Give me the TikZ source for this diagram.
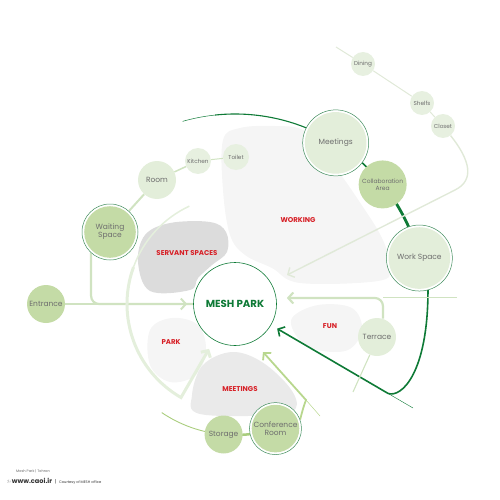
\documentclass[tikz,border=0pt]{standalone}
\usepackage{fontspec}
\setmainfont{Poppins}
\usetikzlibrary{arrows.meta,calc}
\definecolor{darkgreen}{HTML}{0E7A36}
\definecolor{ringgreen}{HTML}{3F8C5C}
\definecolor{lightfill}{HTML}{E3EEDA}
\definecolor{midfill}{HTML}{C4DBA6}
\definecolor{palefill}{HTML}{E7F0E0}
\definecolor{paleline}{HTML}{D0E3C1}
\definecolor{bandline}{HTML}{E4EFDC}
\definecolor{dinline}{HTML}{E0E9D8}
\definecolor{limeline}{HTML}{A9CD7D}
\definecolor{limearrow}{HTML}{B8D78E}
\definecolor{zonered}{HTML}{D71F26}
\definecolor{zonegray}{HTML}{F5F5F5}
\definecolor{servgray}{HTML}{DCDCDC}
\definecolor{meetgray}{HTML}{EAEAEA}
\definecolor{labelgray}{HTML}{6E6E6E}
\pgfdeclarelayer{blobs}
\pgfdeclarelayer{links}
\pgfsetlayers{blobs,links,main}

\begin{document}
\begin{tikzpicture}[x=1pt, y=-1pt,
    every node/.style={circle, inner sep=0pt, align=center, text=labelgray, font=\fontsize{7.5}{8.2}\selectfont},
    light/.style={fill=lightfill},
    mid/.style={fill=midfill},
    small/.style={fill=palefill, minimum size=#1, font=\fontsize{5.7}{6.4}\selectfont},
    ringed/.style 2 args={minimum size=#1, draw=ringgreen, line width=0.5pt, fill=white,
      path picture={\fill[#2] (path picture bounding box.center) circle[radius=#1/2-2.2pt];}},
    zone/.style={rectangle, text=zonered, font=\bfseries\fontsize{7}{7.5}\selectfont},
    tip/.style={-{Straight Barb[length=5pt, width=11pt]}},
  ]
  \useasboundingbox (0,0) rectangle (500,500);

  % Centre
  \node[draw=darkgreen, line width=0.6pt, fill=white, minimum size=83pt, text=darkgreen, font=\bfseries\fontsize{10.2}{11}\selectfont] (M) at (235,304) {MESH PARK};

  % Working ring
  \node[ringed={66pt}{lightfill}] (Meet) at ($(M)+(58:190pt)$) {Meetings};
  \node[mid, minimum size=48pt, font=\fontsize{6}{7}\selectfont] (Coll) at ($(M)+(39:190pt)$) {Collaboration\\Area};
  \node[ringed={66pt}{lightfill}] (Work) at ($(M)+(14:190pt)$) {Work Space};

  % Entrance side
  \node[ringed={56pt}{midfill}] (Wait) at (110,232) {Waiting\\Space};
  \node[light, minimum size=38pt] (Room) at (157,180) {Room};
  \node[small=26pt] (Kit) at (198,161) {Kitchen};
  \node[small=26pt] (Toil) at (236,157) {Toilet};
  \node[mid, minimum size=38pt] (Ent) at (46,304) {Entrance};

  % Storage side
  \node[light, minimum size=38pt] (Ter) at (377,337) {Terrace};
  \node[mid, minimum size=38pt] (Stor) at ($(M)+(265:131pt)$) {Storage};
  \node[ringed={52pt}{midfill}] (Conf) at ($(M)+(288:131pt)$) {Conference\\Room};

  % Dining side
  \node[small=24pt] (Din) at (363,64) {Dining};
  \node[small=24pt] (Shel) at (422,103) {Shelfs};
  \node[small=24pt] (Clos) at (443,126) {Closet};

  % Zone labels
  \node[zone] (LServ) at (187,253) {SERVANT SPACES};
  \node[zone] (LWork) at (298,220) {WORKING};
  \node[zone] (LFun) at (330,326) {FUN};
  \node[zone] (LPark) at (171,342) {PARK};
  \node[zone] (LMeet) at (240,389) {MEETINGS};

  % Footer
  \node[rectangle, anchor=west, font=\fontsize{3.6}{4}\selectfont] (cap) at (16,471) {Mesh Park | Tehran};
  \node[rectangle, anchor=west, text=black!80] (credit) at (7,481)
    {\fontsize{4.5}{5}\selectfont\textcopyright\ \bfseries\fontsize{6.6}{7}\selectfont www.caoi.ir\ \ \mdseries\fontsize{5}{6}\selectfont|\ \ \fontsize{3.6}{4}\selectfont Courtesy of MESH office};

  % Zones
  \begin{pgfonlayer}{blobs}
    \fill[zonegray] plot[smooth cycle, tension=0.6] coordinates {(223,140) (240,128) (275,126) (305,131) (330,160) (357,198) (382,238) (390,268) (378,281) (300,283) (272,268) (245,255) (230,235) (223,190)};
    \fill[servgray] plot[smooth cycle, tension=0.6] coordinates {(138,262) (145,235) (170,223) (210,222) (226,232) (227,252) (212,265) (198,278) (190,290) (150,291)};
    \fill[zonegray] plot[smooth cycle, tension=0.6] coordinates {(150,330) (172,318) (198,325) (206,350) (196,375) (170,382) (150,365)};
    \fill[zonegray] plot[smooth cycle, tension=0.6] coordinates {(292,318) (318,305) (352,308) (362,330) (348,350) (318,350) (298,338)};
    \fill[meetgray] plot[smooth cycle, tension=0.6] coordinates {(203,365) (232,352) (262,362) (290,388) (296,408) (275,415) (200,414) (192,395)};
  \end{pgfonlayer}

  % Connections
  \begin{pgfonlayer}{links}
    % outer green ring
    \draw[darkgreen, line width=0.5pt] (M.center) ++(106:190pt) arc[start angle=106, end angle=96, radius=190pt];
    \draw[darkgreen, line width=1.1pt] (M.center) ++(96:190pt) arc[start angle=96, end angle=58, radius=190pt];
    \draw[darkgreen, line width=1.6pt] (Meet.center) arc[start angle=58, end angle=39, radius=190pt];
    \draw[darkgreen, line width=2.8pt] (Coll.center) arc[start angle=39, end angle=14, radius=190pt];
    \coordinate (tail) at (413,408);
    \coordinate (join) at ($(tail)!0.14!(M)$);
    \draw[darkgreen, line width=0.4pt] (tail) -- (join);
    \draw[darkgreen, line width=1.6pt, tip, shorten >=7pt] (Work.-75) .. controls (428,372) and (402,398) .. (join) -- (M);

    % entrance and waiting space
    \draw[paleline, line width=2pt, tip, shorten >=6pt] (Ent) -- (M);
    \draw[paleline, line width=2.2pt, rounded corners=8pt] (Wait.-132) |- (M);
    \draw[paleline, line width=2pt] (Wait) -- (Room);
    \draw[paleline, line width=1.5pt] (Room) -- (Kit);
    \draw[paleline, line width=1pt] (Kit) -- (Toil);

    % inner pale band
    \draw[bandline, line width=1.5pt] (M.center) ++(115:108pt) arc[start angle=115, end angle=160, radius=108pt];
    \draw[bandline, line width=3pt, tip, shorten >=10pt] (M.center) ++(160:108pt) arc[start angle=160, end angle=240, radius=108pt] -- (M);

    % terrace
    \coordinate (funend) at (457,297);
    \draw[paleline, line width=0.5pt] (funend) -- (Ter.72 |- funend);
    \draw[paleline, line width=2.2pt, rounded corners=8pt, tip] (Ter.72) |- ([shift={(10pt,6pt)}]M.east);
    \coordinate (terend) at (353,392);
    \draw[paleline, line width=1.1pt] (Ter.-112) -- (terend);

    % dining and closet
    \coordinate (dinstart) at (336,47);
    \coordinate (worktip) at (287,275);
    \draw[dinline, line width=1pt] (dinstart) -- (Din) -- (Shel) -- (Clos);
    \draw[dinline, line width=1.4pt, tip] (Clos) .. controls (470,160) and (475,180) .. (455,190) -- (worktip);

    % storage and conference
    \draw[limeline, line width=0.9pt] (M.center) ++(236:131pt) arc[start angle=236, end angle=265, radius=131pt];
    \draw[limeline, line width=2.5pt] (Stor.center) arc[start angle=265, end angle=288, radius=131pt];
    \coordinate (conftail) at (320,416);
    \coordinate (conjoin) at (306,400);
    \draw[limearrow, line width=0.5pt] (conftail) -- (conjoin);
    \draw[limearrow, line width=1.8pt, tip] (Conf.20) .. controls (302,412) and (304,405) .. (conjoin) -- ([shift={(28pt,-48pt)}]M.center);
  \end{pgfonlayer}
\end{tikzpicture}
\end{document}
